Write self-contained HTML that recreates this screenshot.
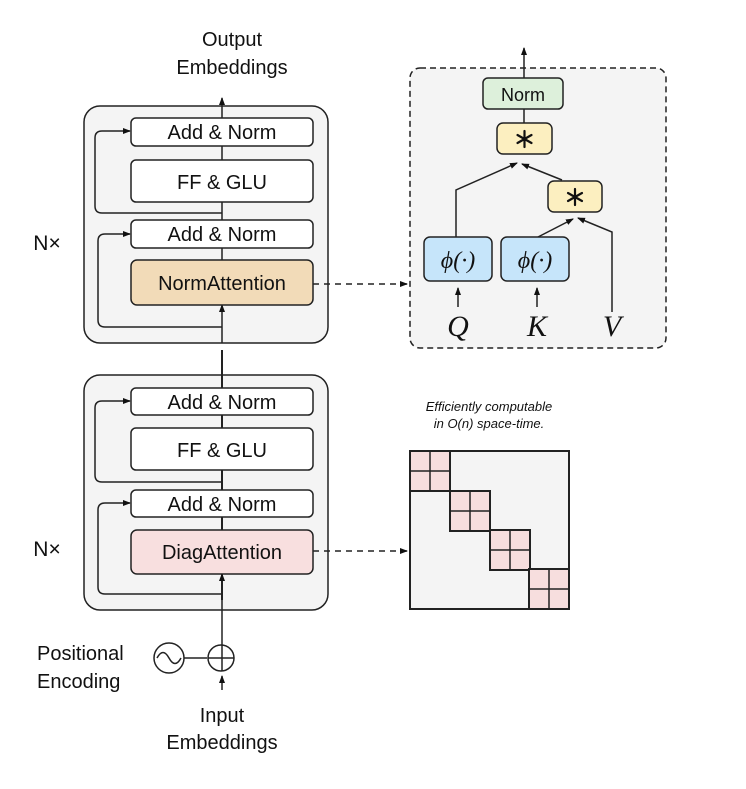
<!DOCTYPE html><html><head><style>body{margin:0;background:#fff}svg text{font-family:"Liberation Sans",sans-serif}</style></head><body>
<svg width="746" height="784" viewBox="0 0 746 784" xmlns="http://www.w3.org/2000/svg">
<defs><marker id="a" markerWidth="8" markerHeight="8" refX="7" refY="4" orient="auto" markerUnits="userSpaceOnUse"><path d="M0,1 L8,4 L0,7z" fill="#111"/></marker></defs>
<g font-size="20" fill="#111" text-anchor="middle">
<text x="232" y="46">Output</text><text x="232" y="74">Embeddings</text>
<text x="222" y="722">Input</text><text x="222" y="749">Embeddings</text>
<text x="37" y="660" text-anchor="start">Positional</text><text x="37" y="688" text-anchor="start">Encoding</text>
<text x="47" y="250" font-size="21">N×</text><text x="47" y="556" font-size="21">N×</text>
</g>
<g stroke="#222" stroke-width="1.5">
<rect x="84" y="106" width="244" height="237" rx="16" fill="#f4f4f4"/>
<rect x="84" y="375" width="244" height="235" rx="16" fill="#f4f4f4"/>
<line x1="222" y1="600" x2="222" y2="350" stroke-width="2"/>
</g>
<g stroke="#222" stroke-width="1.5" fill="none">
<line x1="222" y1="125" x2="222" y2="98" marker-end="url(#a)"/>
<line x1="222" y1="146" x2="222" y2="260"/>
<line x1="222" y1="343" x2="222" y2="305" marker-end="url(#a)"/>
<path d="M222,213 H102 Q95,213 95,206 V138 Q95,131 102,131 H130" marker-end="url(#a)"/>
<path d="M222,327 H105 Q98,327 98,320 V241 Q98,234 105,234 H130" marker-end="url(#a)"/>
<line x1="222" y1="415" x2="222" y2="530"/>
<line x1="222" y1="671" x2="222" y2="574" marker-end="url(#a)"/>
<path d="M222,482 H102 Q95,482 95,475 V408 Q95,401 102,401 H130" marker-end="url(#a)"/>
<path d="M222,594 H105 Q98,594 98,587 V510 Q98,503 105,503 H130" marker-end="url(#a)"/>
<line x1="313" y1="284" x2="407" y2="284" stroke-dasharray="6,5" marker-end="url(#a)"/>
<line x1="313" y1="551" x2="407" y2="551" stroke-dasharray="6,5" marker-end="url(#a)"/>
</g>
<g stroke="#222" stroke-width="1.5">
<rect x="131" y="118" width="182" height="28" rx="5" fill="#fff"/>
<rect x="131" y="160" width="182" height="42" rx="5" fill="#fff"/>
<rect x="131" y="220" width="182" height="28" rx="5" fill="#fff"/>
<rect x="131" y="260" width="182" height="45" rx="6" fill="#f2dbb8"/>
<rect x="131" y="388" width="182" height="27" rx="5" fill="#fff"/>
<rect x="131" y="428" width="182" height="42" rx="5" fill="#fff"/>
<rect x="131" y="490" width="182" height="27" rx="5" fill="#fff"/>
<rect x="131" y="530" width="182" height="44" rx="6" fill="#f8dfdf"/>
</g>
<g font-size="20" fill="#111" text-anchor="middle">
<text x="222" y="139">Add &amp; Norm</text><text x="222" y="189">FF &amp; GLU</text>
<text x="222" y="241">Add &amp; Norm</text><text x="222" y="290">NormAttention</text>
<text x="222" y="409">Add &amp; Norm</text><text x="222" y="457">FF &amp; GLU</text>
<text x="222" y="511">Add &amp; Norm</text><text x="222" y="559">DiagAttention</text>
</g>
<g stroke="#222" stroke-width="1.5" fill="none">
<circle cx="169" cy="658" r="15" fill="#fff"/>
<path d="M157,658 Q163,647 169,658 T181,658"/>
<line x1="184" y1="658" x2="207" y2="658"/>
<circle cx="221" cy="658" r="13"/>
<line x1="208" y1="658" x2="234" y2="658"/>
<line x1="222" y1="690" x2="222" y2="676" marker-end="url(#a)"/>
</g>
<rect x="410" y="68" width="256" height="280" rx="10" fill="#f4f4f4" stroke="#222" stroke-width="1.5" stroke-dasharray="6,4"/>
<g stroke="#222" stroke-width="1.5" fill="none">
<line x1="524" y1="78" x2="524" y2="48" marker-end="url(#a)"/>
<line x1="524" y1="109" x2="524" y2="123"/>
<path d="M456,237 V190 L517,163" marker-end="url(#a)"/>
<line x1="562" y1="180" x2="522" y2="164" marker-end="url(#a)"/>
<line x1="538" y1="237" x2="573" y2="219" marker-end="url(#a)"/>
<path d="M612,312 V232 L578,218" marker-end="url(#a)"/>
<line x1="458" y1="307" x2="458" y2="288" marker-end="url(#a)"/>
<line x1="537" y1="307" x2="537" y2="288" marker-end="url(#a)"/>
</g>
<g stroke="#222" stroke-width="1.5">
<rect x="483" y="78" width="80" height="31" rx="5" fill="#ddf0db"/>
<rect x="497" y="123" width="55" height="31" rx="6" fill="#fcefc0"/>
<rect x="548" y="181" width="54" height="31" rx="6" fill="#fcefc0"/>
<rect x="424" y="237" width="68" height="44" rx="6" fill="#c6e5fa"/>
<rect x="501" y="237" width="68" height="44" rx="6" fill="#c6e5fa"/>
</g>
<g stroke="#111" stroke-width="2.2" stroke-linecap="round">
<path d="M524.5,131 V147 M517.5,135 L531.5,143 M517.5,143 L531.5,135"/>
<path d="M575,189 V205 M568,193 L582,201 M568,201 L582,193"/>
</g>
<g fill="#111" text-anchor="middle">
<text x="523" y="101" font-size="18">Norm</text>
<text x="458" y="268" style="font-family:'Liberation Serif',serif;font-style:italic;font-size:24px">ϕ(·)</text>
<text x="535" y="268" style="font-family:'Liberation Serif',serif;font-style:italic;font-size:24px">ϕ(·)</text>
<text x="458" y="336" style="font-family:'Liberation Serif',serif;font-style:italic;font-size:30px">Q</text>
<text x="537" y="336" style="font-family:'Liberation Serif',serif;font-style:italic;font-size:30px">K</text>
<text x="612" y="336" style="font-family:'Liberation Serif',serif;font-style:italic;font-size:30px">V</text>
<text x="489" y="411" font-size="13" font-style="italic">Efficiently computable</text>
<text x="489" y="428" font-size="13" font-style="italic">in O(n) space-time.</text>
</g>
<rect x="410" y="451" width="159" height="158" fill="#f4f4f4" stroke="#222" stroke-width="2"/>
<g stroke="#222" stroke-width="2" fill="#f7dede">
<rect x="410" y="451" width="40" height="40"/><rect x="450" y="491" width="40" height="40"/>
<rect x="490" y="530" width="40" height="40"/><rect x="529" y="569" width="40" height="40"/>
</g>
<g stroke="#222" stroke-width="1.5">
<line x1="430" y1="451" x2="430" y2="491"/><line x1="410" y1="471" x2="450" y2="471"/>
<line x1="470" y1="491" x2="470" y2="531"/><line x1="450" y1="511" x2="490" y2="511"/>
<line x1="510" y1="530" x2="510" y2="570"/><line x1="490" y1="550" x2="530" y2="550"/>
<line x1="549" y1="569" x2="549" y2="609"/><line x1="529" y1="589" x2="569" y2="589"/>
</g>
</svg></body></html>
